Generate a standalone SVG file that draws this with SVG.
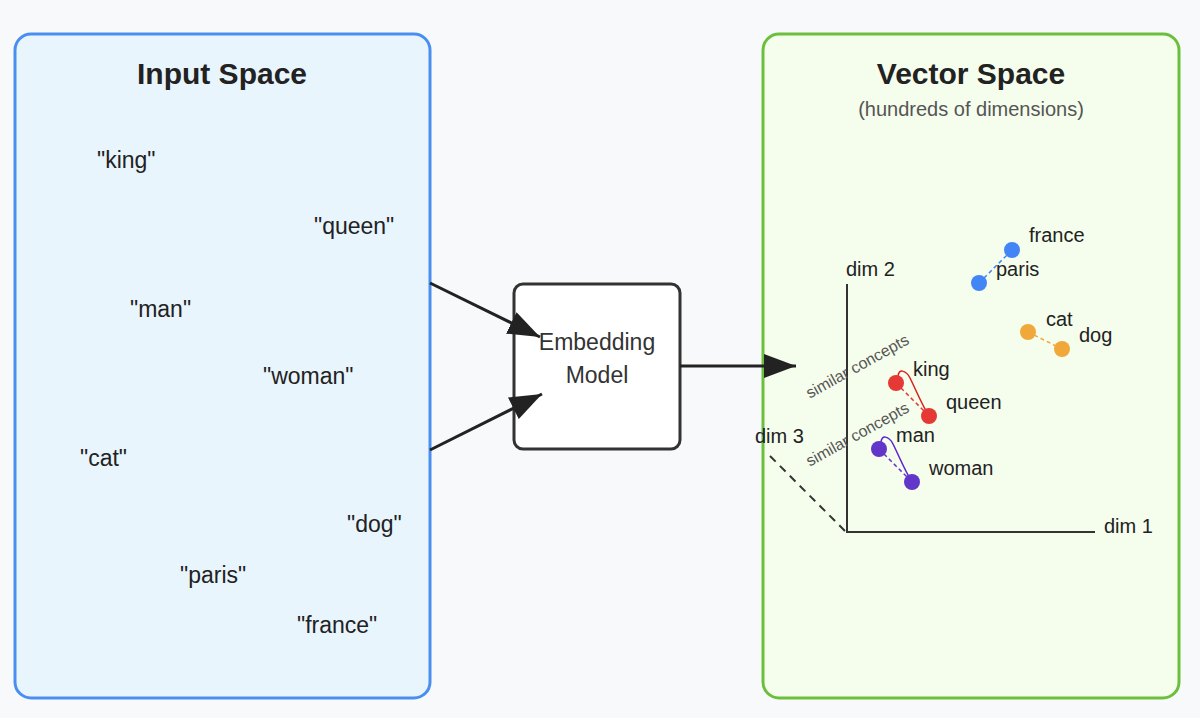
<svg xmlns="http://www.w3.org/2000/svg" width="1200" height="718" viewBox="0 0 1200 718">
<style>
text{font-family:"Liberation Sans",Arial,sans-serif;fill:#222}
.title{font-size:30px;font-weight:bold;text-anchor:middle}
.word{font-size:23px}
.lbl{font-size:20px}
.dim{font-size:20px}
.sim{font-size:16px;fill:#555}
.ax{stroke:#333;stroke-width:2;fill:none}
.conn{stroke:#222;stroke-width:3;fill:none}
</style>
<defs>
<marker id="ah" viewBox="0 0 32 24" refX="32" refY="12" markerWidth="32" markerHeight="24" markerUnits="userSpaceOnUse" orient="auto">
<path d="M0,0 L32,12 L0,24 Z" fill="#222"/>
</marker>
</defs>
<rect width="1200" height="718" fill="#f8f9fa"/>
<g id="input-space">
<rect x="15" y="34" width="415" height="664" rx="16" fill="#e8f5fd" stroke="#4a8ff0" stroke-width="3"/>
<text class="title" x="222" y="84">Input Space</text>
<text class="word" x="97" y="168">"king"</text>
<text class="word" x="314" y="234">"queen"</text>
<text class="word" x="130" y="317">"man"</text>
<text class="word" x="263" y="384">"woman"</text>
<text class="word" x="80" y="466">"cat"</text>
<text class="word" x="347" y="532">"dog"</text>
<text class="word" x="180" y="583">"paris"</text>
<text class="word" x="297" y="633">"france"</text>
</g>
<g id="vector-space">
<rect x="763" y="34" width="416" height="664" rx="16" fill="#f5fdec" stroke="#6cbf3c" stroke-width="3"/>
<text class="title" x="971" y="84">Vector Space</text>
<text x="971" y="116" style="font-size:20px;fill:#555;text-anchor:middle">(hundreds of dimensions)</text>
<line class="ax" x1="847" y1="284" x2="847" y2="532"/>
<line class="ax" x1="846" y1="532" x2="1095" y2="532"/>
<line class="ax" x1="770" y1="456" x2="846" y2="532" stroke-dasharray="8,6"/>
<text class="dim" x="846" y="276">dim 2</text>
<text class="dim" x="1104" y="533">dim 1</text>
<text class="dim" x="755" y="443">dim 3</text>
<line x1="979" y1="283" x2="1012" y2="250" stroke="#4285f4" stroke-width="1.5" stroke-dasharray="4,3"/>
<line x1="1028" y1="332" x2="1062" y2="349" stroke="#f0a83a" stroke-width="1.5" stroke-dasharray="4,3"/>
<line x1="896" y1="383" x2="929" y2="416" stroke="#e53935" stroke-width="1.5" stroke-dasharray="4,3"/>
<line x1="879" y1="449" x2="912" y2="482" stroke="#6236c8" stroke-width="1.5" stroke-dasharray="4,3"/>
<path d="M898,377 C898,368 906,370 910,378 C916,390 922,405 929,416" fill="none" stroke="#dd1f1f" stroke-width="1.5"/>
<path d="M881,443 C881,434 889,436 893,444 C899,456 905,471 912,482" fill="none" stroke="#5a22d0" stroke-width="1.5"/>
<text class="sim" transform="translate(860,371) rotate(-29)" text-anchor="middle">similar concepts</text>
<text class="sim" transform="translate(860,439) rotate(-29)" text-anchor="middle">similar concepts</text>
</g>
<g id="point-france"><circle cx="1012" cy="250" r="8" fill="#4285f4"/><text class="lbl" x="1029" y="242">france</text></g>
<g id="point-paris"><circle cx="979" cy="283" r="8" fill="#4285f4"/><text class="lbl" x="996" y="276">paris</text></g>
<g id="point-cat"><circle cx="1028" cy="332" r="8" fill="#f0a83a"/><text class="lbl" x="1046" y="326">cat</text></g>
<g id="point-dog"><circle cx="1062" cy="349" r="8" fill="#f0a83a"/><text class="lbl" x="1079" y="342">dog</text></g>
<g id="point-king"><circle cx="896" cy="383" r="8" fill="#e53935"/><text class="lbl" x="913" y="376">king</text></g>
<g id="point-queen"><circle cx="929" cy="416" r="8" fill="#e53935"/><text class="lbl" x="946" y="409">queen</text></g>
<g id="point-man"><circle cx="879" cy="449" r="8" fill="#6236c8"/><text class="lbl" x="896" y="442">man</text></g>
<g id="point-woman"><circle cx="912" cy="482" r="8" fill="#6236c8"/><text class="lbl" x="929" y="475">woman</text></g>
<g id="embedding-model">
<rect x="514" y="284" width="166" height="165" rx="9" fill="#ffffff" stroke="#333" stroke-width="3"/>
<text x="597" y="350" style="font-size:23px;fill:#333;text-anchor:middle">Embedding</text>
<text x="597" y="383" style="font-size:23px;fill:#333;text-anchor:middle">Model</text>
</g>
<g id="connectors">
<line class="conn" x1="430" y1="283" x2="540" y2="337" marker-end="url(#ah)"/>
<line class="conn" x1="430" y1="450" x2="542" y2="394" marker-end="url(#ah)"/>
<line class="conn" x1="680" y1="366" x2="796" y2="366" marker-end="url(#ah)"/>
</g>
</svg>
